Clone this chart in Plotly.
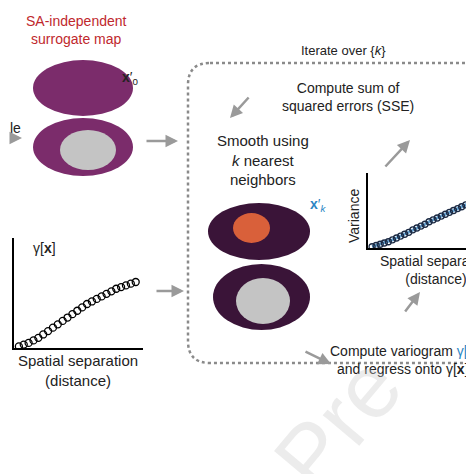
import numpy as np
import plotly.graph_objects as go

# data
gamma_x = list(range(1, 26))
gamma_y = [0.02, 0.04, 0.06, 0.09, 0.12, 0.16, 0.20, 0.24, 0.28, 0.32, 0.36, 0.40, 0.44, 0.48,
           0.52, 0.55, 0.58, 0.61, 0.64, 0.67, 0.70, 0.72, 0.74, 0.76, 0.78]
var_x = list(range(1, 29))
var_y = [0.02, 0.04, 0.06, 0.08, 0.10, 0.13, 0.16, 0.19, 0.22, 0.25, 0.29, 0.32, 0.35, 0.38,
         0.42, 0.45, 0.48, 0.51, 0.54, 0.57, 0.60, 0.63, 0.66, 0.69, 0.72, 0.75, 0.78, 0.81]

GREY = "#9a9a9a"
PURPLE = "#7b2c6b"
fig = go.Figure()

# left variogram
fig.add_trace(go.Scatter(x=gamma_x, y=gamma_y, mode="markers", xaxis="x2", yaxis="y2",
                         marker=dict(symbol="circle-open", size=7, color="black", line=dict(width=1.3))))
# right variance plot
fig.add_trace(go.Scatter(x=var_x, y=var_y, mode="lines", xaxis="x3", yaxis="y3",
                         line=dict(color="#6aa8d8", width=3)))
fig.add_trace(go.Scatter(x=var_x, y=var_y, mode="markers", xaxis="x3", yaxis="y3",
                         marker=dict(symbol="circle-open", size=6, color="#1b2a44", line=dict(width=1.3))))

shapes = []
def ell(x0, y0, x1, y1, color):
    shapes.append(dict(type="circle", xref="x", yref="y", x0=x0, y0=y0, x1=x1, y1=y1,
                       fillcolor=color, line=dict(width=0), layer="above"))

# brains (approximate)
ell(25, 52, 125, 108, PURPLE)
ell(25, 110, 125, 168, PURPLE)
ell(52, 122, 108, 162, "#c4c4c4")
ell(200, 195, 302, 252, "#3a1438")
ell(225, 205, 262, 235, "#d9603a")
ell(205, 256, 302, 322, "#3a1438")
ell(228, 270, 282, 316, "#c4c4c4")

# dotted rounded frame
r = 22
x0, x1, y0, y1 = 180, 490, 55, 355
path = (f"M{x0+r},{y0} L{x1-r},{y0} Q{x1},{y0} {x1},{y0+r} L{x1},{y1-r} Q{x1},{y1} {x1-r},{y1} "
        f"L{x0+r},{y1} Q{x0},{y1} {x0},{y1-r} L{x0},{y0+r} Q{x0},{y0} {x0+r},{y0} Z")
shapes.append(dict(type="path", path=path, xref="x", yref="y",
                   line=dict(color="#8a8a8a", width=2.5, dash="dot")))

ann = []
def txt(x, y, t, size=14, color="#222", **kw):
    ann.append(dict(x=x, y=y, xref="x", yref="y", text=t, showarrow=False,
                    font=dict(size=size, color=color, family="Liberation Sans, Arial"), **kw))
def arrow(xs, ys, xe, ye):
    ann.append(dict(x=xe, y=ye, ax=xs, ay=ys, xref="x", yref="y", axref="x", ayref="y",
                    text="", showarrow=True, arrowhead=2, arrowsize=1, arrowwidth=2.5, arrowcolor=GREY))

txt(68, 22, "SA-independent<br>surrogate map", 14, "#c0282d")
txt(122, 70, "<b>x</b>′<sub>0</sub>", 14)
txt(335, 42, "Iterate over {<i>k</i>}", 13)
txt(340, 89, "Compute sum of<br>squared errors (SSE)", 14)
txt(255, 152, "Smooth using<br><i>k</i> nearest<br>neighbors", 15)
txt(310, 197, "<b>x</b>′<sub><i>k</i></sub>", 14, "#2a85c4")
txt(395, 352, "Compute variogram <span style='color:#2a85c4'>γ[<b>x</b></span><br>and regress onto γ[<b>x</b>]", 14)
txt(346, 208, "Variance", 14, textangle=-90)
txt(428, 262, "Spatial separation<br>(distance)", 14)
txt(70, 362, "Spatial separation<br>(distance)", 15)
txt(36, 240, "γ[<b>x</b>]", 14)
txt(0, 120, "le", 14, xanchor="left")
txt(330, 415, "Pre", 90, "rgba(200,200,200,0.35)", textangle=-50)

arrow(2, 130, 14, 130)
arrow(137, 133, 170, 133)
arrow(147, 283, 176, 283)
arrow(242, 88, 222, 110)
arrow(376, 160, 402, 132)
arrow(396, 305, 412, 284)
arrow(296, 343, 323, 356)

fig.update_layout(
    width=474, height=474, margin=dict(l=0, r=0, t=0, b=0),
    paper_bgcolor="white", plot_bgcolor="rgba(0,0,0,0)", showlegend=False,
    shapes=shapes, annotations=ann,
    xaxis=dict(range=[0, 474], visible=False, domain=[0, 1]),
    yaxis=dict(range=[474, 0], visible=False, domain=[0, 1]),
    xaxis2=dict(domain=[6/474, 135/474], anchor="y2", range=[0, 26.5], showline=True, linecolor="black",
                linewidth=2, showticklabels=False, ticks="", showgrid=False, zeroline=False),
    yaxis2=dict(domain=[1-340/474, 1-230/474], anchor="x2", range=[0, 1.3], showline=True, linecolor="black",
                linewidth=2, showticklabels=False, ticks="", showgrid=False, zeroline=False),
    xaxis3=dict(domain=[360/474, 1], anchor="y3", range=[0, 28], showline=True, linecolor="black",
                linewidth=2, showticklabels=False, ticks="", showgrid=False, zeroline=False),
    yaxis3=dict(domain=[1-240/474, 1-165/474], anchor="x3", range=[0, 1.2], showline=True, linecolor="black",
                linewidth=2, showticklabels=False, ticks="", showgrid=False, zeroline=False),
)
fig.write_html("out.html")
